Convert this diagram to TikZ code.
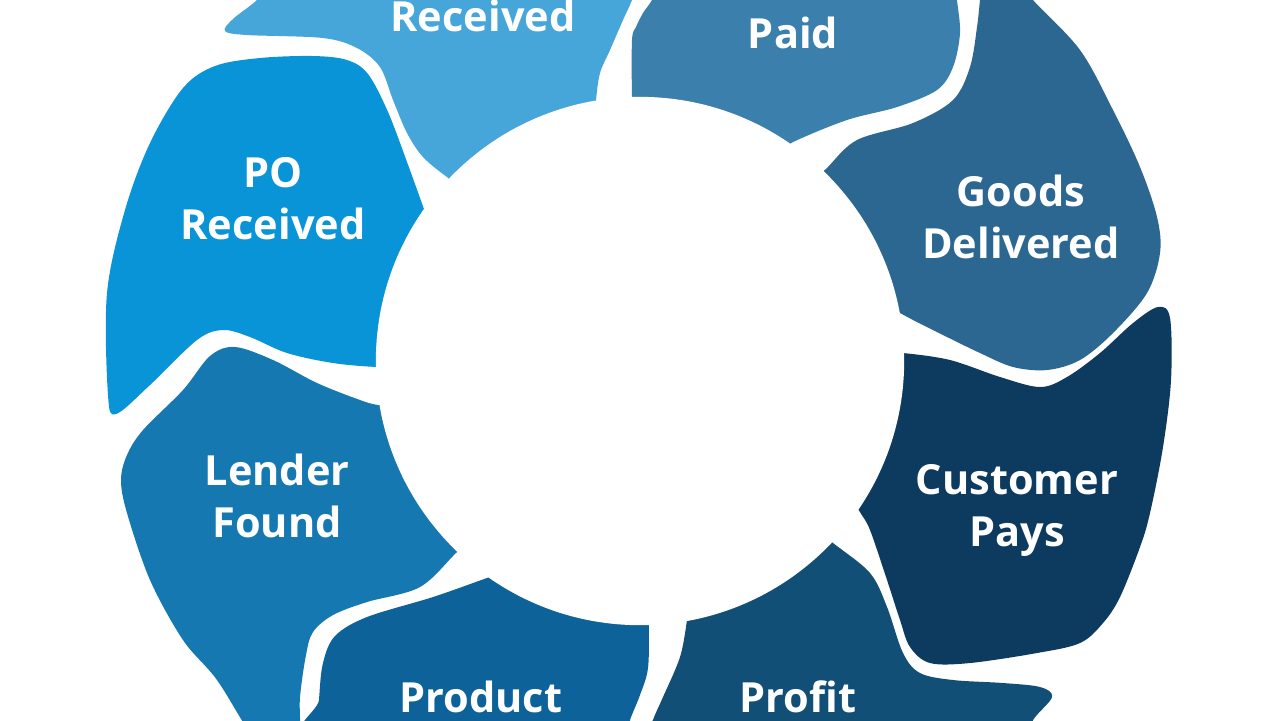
\documentclass[tikz,border=0pt]{standalone}
\usepackage{fontspec}
\setmainfont{Open Sans}
\definecolor{rcvblue}{RGB}{70,166,217}
\definecolor{paidblue}{RGB}{59,128,173}
\definecolor{goodsblue}{RGB}{44,103,146}
\definecolor{custblue}{RGB}{13,58,95}
\definecolor{profitblue}{RGB}{18,79,118}
\definecolor{productblue}{RGB}{13,98,153}
\definecolor{lenderblue}{RGB}{22,120,176}
\definecolor{poblue}{RGB}{9,148,216}
\tikzset{
	stage/.style={draw=none},
	stagelbl/.style={text=white, font=\bfseries\fontsize{11.8}{14.8}\selectfont, align=center, inner sep=0pt}
}

\begin{document}
\begin{tikzpicture}[x=0.01cm, y=-0.01cm]
			%%%%% START %%%%%
			\useasboundingbox (0,0) rectangle (1280,720);
			\clip (0,0) rectangle (1280,720);
			\fill[white] (0,0) rectangle (1280,720);
			
			% Received (top left)
			\fill[stage, fill=rcvblue] plot[smooth cycle, tension=0.55] coordinates {(225,31) (247,35) (323,38) (357,48) (380,67) (393,100) (407,133) (423,157) (447,177) (478,198) (530,150) (594,128) (596,100) (600,73) (610,50) (623,20) (632,0) (640,-25) (280,-25) (257,0) (233,19)};
			
			% Paid (top right)
			\fill[stage, fill=paidblue] plot[smooth cycle, tension=0.55] coordinates {(632,97) (632,40) (636,27) (643,13) (652,0) (665,-25) (955,-25) (957,0) (960,33) (953,67) (937,90) (897,107) (847,120) (793,142) (762,160) (700,130) (634,128)};
			
			% Goods Delivered
			\fill[stage, fill=goodsblue] plot[smooth cycle, tension=0.55] coordinates {(827,168) (857,140) (913,123) (953,100) (970,67) (977,27) (980,0) (983,-25) (1015,-25) (1033,0) (1080,50) (1113,110) (1140,167) (1157,217) (1160,253) (1147,293) (1113,333) (1080,360) (1047,370) (1013,367) (980,353) (947,337) (913,320) (900,313) (875,298) (850,235) (805,192)};
			
			% Customer Pays
			\fill[stage, fill=custblue] plot[smooth cycle, tension=0.55] coordinates {(903,353) (950,360) (1000,377) (1040,387) (1067,377) (1100,353) (1133,323) (1158,307) (1170,318) (1171,380) (1163,447) (1150,513) (1140,547) (1120,597) (1103,623) (1080,643) (1037,653) (970,663) (930,663) (910,647) (900,620) (887,580) (870,530) (860,512) (843,482) (860,420) (875,352)};
			
			% Profit
			\fill[stage, fill=profitblue] plot[smooth cycle, tension=0.55] coordinates {(687,620) (680,657) (663,697) (653,720) (645,748) (1020,748) (1033,720) (1052,697) (1040,687) (1003,683) (953,680) (920,673) (903,653) (887,607) (870,573) (833,543) (803,520) (740,585) (690,592)};
			
			% Product
			\fill[stage, fill=productblue] plot[smooth cycle, tension=0.55] coordinates {(487,578) (433,597) (367,617) (335,636) (323,663) (319,700) (317,748) (622,748) (630,720) (640,695) (648,668) (649,623) (650,585) (585,582) (522,566)};
			
			% Lender Found
			\fill[stage, fill=lenderblue] plot[smooth cycle, tension=0.55] coordinates {(143,430) (183,390) (210,356) (235,347) (273,360) (317,383) (360,400) (378,405) (415,410) (455,470) (482,530) (457,552) (420,587) (367,602) (333,615) (313,632) (306,655) (300,697) (297,748) (262,748) (217,680) (183,640) (150,580) (127,513) (121,480) (127,455)};
			
			% PO Received
			\fill[stage, fill=poblue] plot[smooth cycle, tension=0.55] coordinates {(183,88) (215,66) (260,58) (313,56) (347,60) (368,74) (388,112) (407,162) (425,212) (440,255) (425,320) (415,367) (377,367) (333,363) (287,353) (250,337) (223,330) (197,340) (150,385) (116,414) (108,395) (107,293) (125,210) (150,143)};
			
			% hub
			\fill[white] (640,361) circle (2.64cm);
			
			\node[stagelbl, anchor=base] (rcv) at (483,31) {Received};
			\node[stagelbl, anchor=base] (paid) at (793,48) {Paid};
			\node[stagelbl] (goods) at (1021,217) {Goods\\Delivered};
			\node[stagelbl] (cust) at (1017,510) {Customer\\Pays};
			\node[stagelbl, anchor=base] (profit) at (798,712) {Profit};
			\node[stagelbl, anchor=base] (product) at (481,712) {Product};
			\node[stagelbl] (lender) at (277,496) {Lender\\Found};
			\node[stagelbl] (po) at (273,199) {PO\\Received};
			%%%%% END %%%%%
\end{tikzpicture}
\end{document}
